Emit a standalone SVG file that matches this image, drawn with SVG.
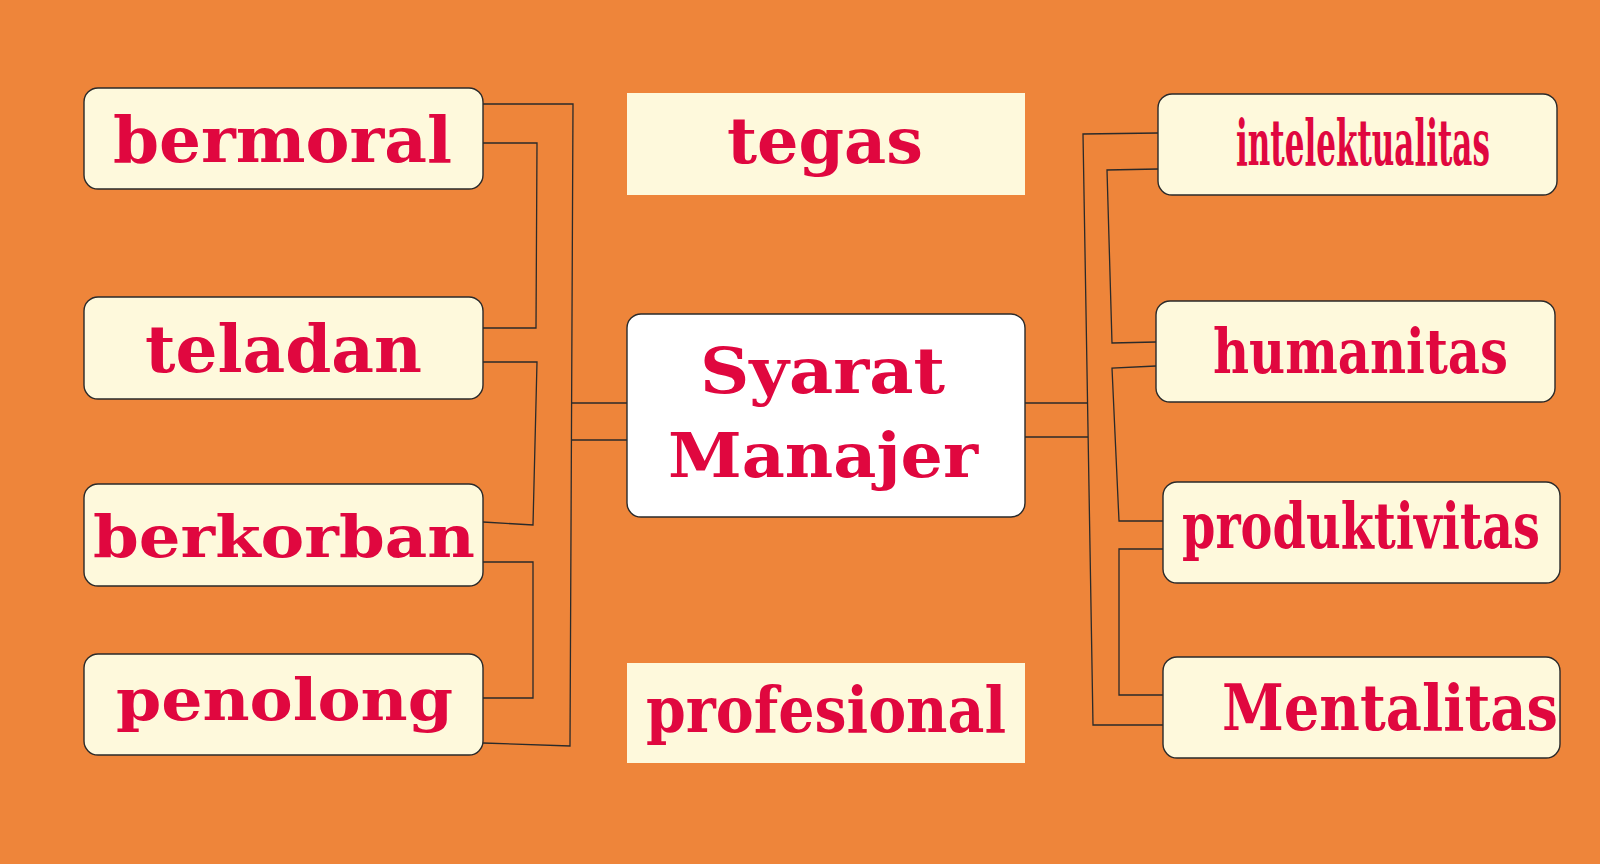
<svg xmlns="http://www.w3.org/2000/svg" width="1600" height="864" viewBox="0 0 1600 864">
<style>
.bg{fill:#EE853A}
.box{fill:#FEF9DC;stroke:#2a2a2a;stroke-width:1.4}
.plain{fill:#FEF9DC}
.center{fill:#FFFFFF;stroke:#2a2a2a;stroke-width:1.4}
.lbl{font-family:"DejaVu Serif","Liberation Serif",serif;font-weight:bold;fill:#E0073F}
.conn{fill:none;stroke:#2a2a2a;stroke-width:1.3}
</style>
<rect class="bg" x="0" y="0" width="1600" height="864"/>
<g id="connectors">
<polyline class="conn" points="483,104 573,104 570,746 483,743"/>
<polyline class="conn" points="483,143 537,143 536,328 483,328"/>
<polyline class="conn" points="483,362 537,362 533,525 483,522"/>
<polyline class="conn" points="483,562 533,562 533,698 483,698"/>
<line class="conn" x1="571" y1="403" x2="627" y2="403"/>
<line class="conn" x1="571" y1="440" x2="627" y2="440"/>
<polyline class="conn" points="1158,133 1083,134 1093,725 1163,725"/>
<polyline class="conn" points="1158,169 1107,170 1112,343 1156,342"/>
<polyline class="conn" points="1156,366 1112,368 1119,521 1163,521"/>
<polyline class="conn" points="1163,549 1119,549 1119,695 1163,695"/>
<line class="conn" x1="1025" y1="403" x2="1088" y2="403"/>
<line class="conn" x1="1025" y1="437" x2="1088" y2="437"/>
</g>
<g id="bermoral">
<rect class="box" x="84" y="88" width="399" height="101" rx="14"/>
<text class="lbl" x="113" y="162" font-size="64" textLength="339" lengthAdjust="spacingAndGlyphs">bermoral</text>
</g>
<g id="teladan">
<rect class="box" x="84" y="297" width="399" height="102" rx="14"/>
<text class="lbl" x="145" y="372" font-size="65" textLength="277" lengthAdjust="spacingAndGlyphs">teladan</text>
</g>
<g id="berkorban">
<rect class="box" x="84" y="484" width="399" height="102" rx="14"/>
<text class="lbl" x="93" y="557" font-size="58" textLength="382" lengthAdjust="spacingAndGlyphs">berkorban</text>
</g>
<g id="penolong">
<rect class="box" x="84" y="654" width="399" height="101" rx="14"/>
<text class="lbl" x="116" y="720" font-size="58" textLength="337" lengthAdjust="spacingAndGlyphs">penolong</text>
</g>
<g id="tegas">
<rect class="plain" x="627" y="93" width="398" height="102"/>
<text class="lbl" x="727" y="163" font-size="63" textLength="196" lengthAdjust="spacingAndGlyphs">tegas</text>
</g>
<g id="syarat-manajer">
<rect class="center" x="627" y="314" width="398" height="203" rx="14"/>
<text class="lbl" x="700" y="393" font-size="63" textLength="245" lengthAdjust="spacingAndGlyphs">Syarat</text>
<text class="lbl" x="668" y="477" font-size="62" textLength="310" lengthAdjust="spacingAndGlyphs">Manajer</text>
</g>
<g id="profesional">
<rect class="plain" x="627" y="663" width="398" height="100"/>
<text class="lbl" x="646" y="732" font-size="64" textLength="360" lengthAdjust="spacingAndGlyphs">profesional</text>
</g>
<g id="intelektualitas">
<rect class="box" x="1158" y="94" width="399" height="101" rx="14"/>
<text class="lbl" transform="translate(1236,165) scale(0.465,1)" x="0" y="0" font-size="63" textLength="546" lengthAdjust="spacingAndGlyphs">intelektualitas</text>
</g>
<g id="humanitas">
<rect class="box" x="1156" y="301" width="399" height="101" rx="14"/>
<text class="lbl" x="1213" y="373" font-size="62" textLength="295" lengthAdjust="spacingAndGlyphs">humanitas</text>
</g>
<g id="produktivitas">
<rect class="box" x="1163" y="482" width="397" height="101" rx="14"/>
<text class="lbl" transform="translate(1182,548) scale(0.71,1)" x="0" y="0" font-size="63" textLength="504" lengthAdjust="spacingAndGlyphs">produktivitas</text>
</g>
<g id="mentalitas">
<rect class="box" x="1163" y="657" width="397" height="101" rx="14"/>
<text class="lbl" transform="translate(1222,730) scale(0.846,1)" x="0" y="0" font-size="64" textLength="397" lengthAdjust="spacingAndGlyphs">Mentalitas</text>
</g>
</svg>
